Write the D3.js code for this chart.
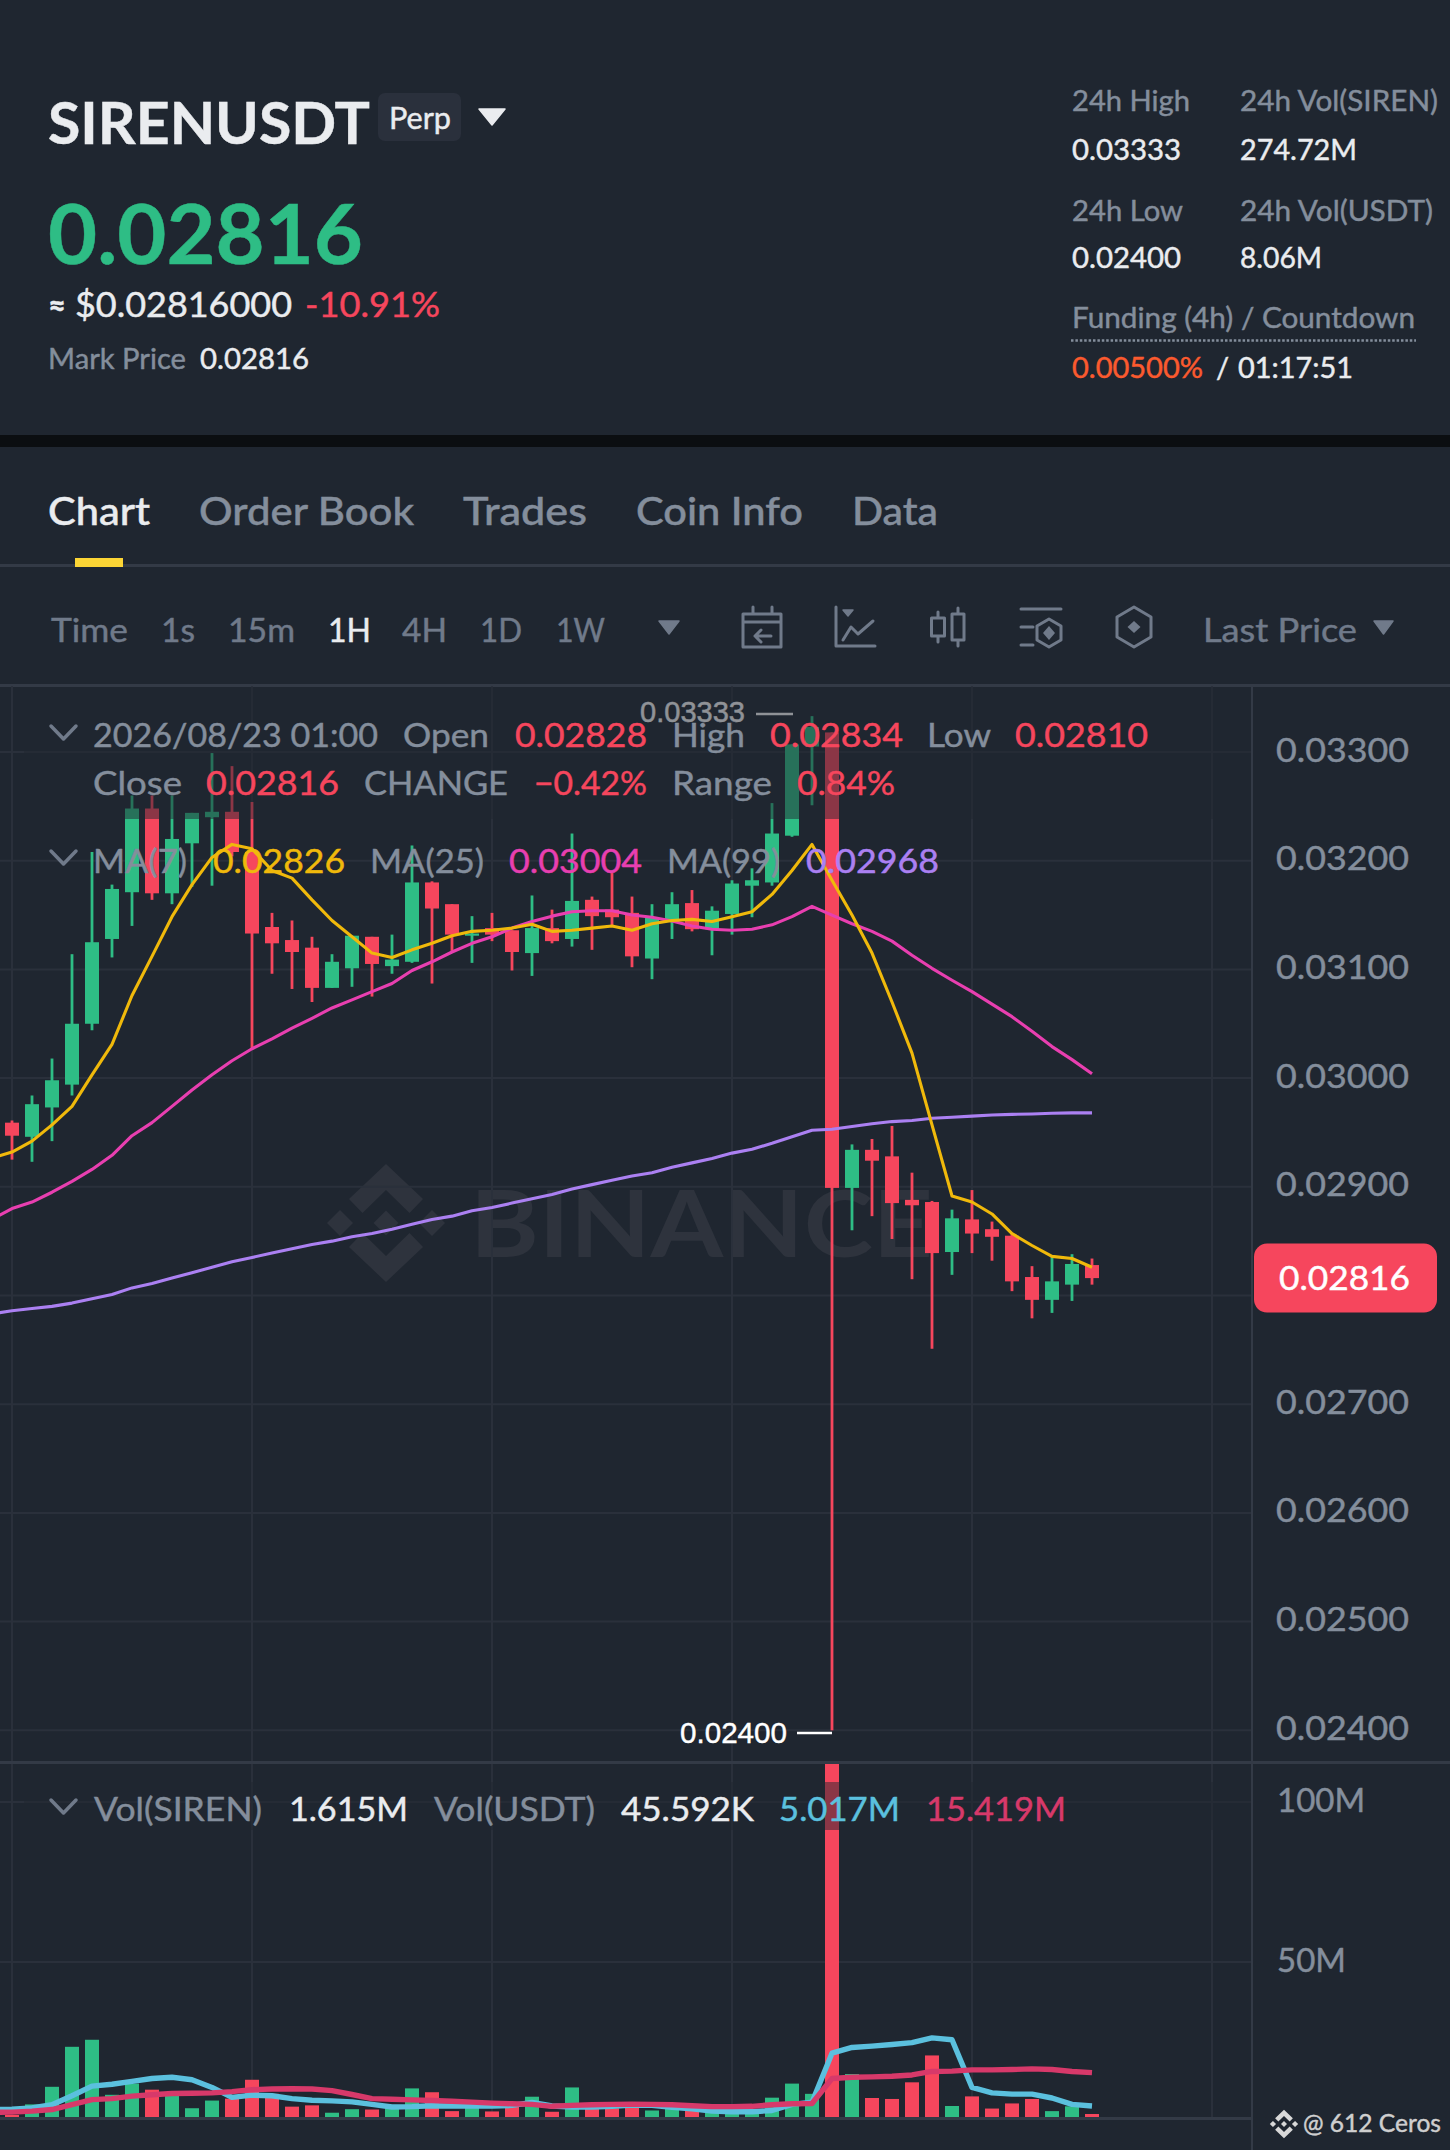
<!DOCTYPE html>
<html lang="en">
<head>
<meta charset="UTF-8">
<title>SIRENUSDT Perp</title>
<script src="https://d3js.org/d3.v7.min.js"></script>
<style>
  html, body { margin: 0; padding: 0; background: #1f2630; }
  svg { display: block; }
  text { font-family: Lato, "Open Sans", sans-serif; }
</style>
</head>
<body>
<svg id="chart" width="1450" height="2150"></svg>
<script>
// candles, one per hour, oldest first
const opens = [.02959,.02946,.02973,.02994,.03050,.03128,.03171,.03248,.03170,.03216,.03240,.03245,.03208,.03139,.03127,.03120,.03083,.03101,.03130,.03103,.03107,.03180,.03160,.03131,.03138,.03136,.03115,.03138,.03128,.03164,.03155,.03152,.03110,.03146,.03161,.03137,.03151,.03177,.03180,.03223,.03305,.03318,.02899,.02934,.02928,.02888,.02886,.02840,.02870,.02861,.02855,.02817,.02796,.02810,.02828];
const highs = [.02961,.02984,.03018,.03114,.03208,.03178,.03260,.03260,.03260,.03244,.03299,.03287,.03254,.03152,.03145,.03130,.03114,.03131,.03130,.03132,.03214,.03181,.03160,.03149,.03152,.03136,.03168,.03155,.03225,.03167,.03189,.03167,.03160,.03171,.03173,.03158,.03182,.03193,.03253,.03307,.03333,.03318,.02939,.02944,.02956,.02913,.02887,.02879,.02897,.02868,.02857,.02827,.02836,.02838,.02834];
const lows = [.02925,.02923,.02942,.02984,.03044,.03111,.03140,.03164,.03160,.03176,.03177,.03204,.03027,.03096,.03082,.03070,.03083,.03084,.03075,.03096,.03106,.03087,.03117,.03106,.03126,.03099,.03094,.03124,.03121,.03118,.03139,.03102,.03091,.03128,.03135,.03113,.03132,.03148,.03177,.03222,.03251,.02400,.02860,.02873,.02852,.02815,.02751,.02819,.02839,.02832,.02804,.02779,.02784,.02795,.02810];
const closes = [.02947,.02976,.02998,.03050,.03125,.03174,.03248,.03170,.03220,.03244,.03245,.03208,.03133,.03124,.03116,.03083,.03107,.03131,.03105,.03109,.03180,.03156,.03132,.03133,.03132,.03116,.03138,.03126,.03163,.03149,.03148,.03112,.03148,.03160,.03137,.03154,.03179,.03182,.03225,.03307,.03323,.02899,.02934,.02924,.02885,.02883,.02839,.02871,.02857,.02854,.02813,.02796,.02813,.02829,.02816];

// moving averages start one hour before the first visible candle
const ma7 = [.029265,.02932,.02942,.02957,.02974,.03003,.03031,.03076,.03112,.031485,.03178,.03203,.03215,.03211,.03191,.03184,.03164,.03145,.03130,.03115,.03111,.03118,.03124,.03131,.03135,.03136,.03138,.031415,.03135,.03136,.03138,.03140,.03136,.03142,.03145,.03146,.03144,.031485,.03153,.03169,.03191,.03215,.03182,.03150,.03115,.03070,.03023,.02957,.028915,.02886,.02875,.02857,.02846,.02836,.02834,.02826];
const ma25 = [.02870,.02880,.02886,.02895,.02905,.02916,.02929,.02947,.02959,.02974,.02989,.03003,.03016,.03027,.03036,.03046,.03055,.030645,.03072,.030795,.03087,.03099,.03107,.03116,.03124,.03130,.03138,.03144,.03149,.03153,.03154,.03154,.03150,.03148,.031445,.03140,.03137,.03136,.03137,.03141,.031485,.03158,.03150,.03142,.03135,.03126,.03113,.03101,.03090,.030795,.03068,.030565,.03043,.03029,.03017,.03004];
const ma99 = [.02783,.02786,.02788,.02790,.02793,.02797,.02801,.02807,.02811,.02816,.02821,.02826,.02831,.02835,.02839,.02843,.02847,.02850,.02854,.02857,.02861,.028655,.02870,.02873,.02878,.02881,.02885,.02889,.02893,.02898,.02902,.02906,.02910,.02913,.02918,.02922,.02926,.02931,.029345,.02940,.02946,.02952,.02953,.029555,.02958,.02960,.02961,.02963,.02964,.02965,.02966,.029666,.02967,.029676,.02968,.02968];

// volume in millions of SIREN
const volumes = [2.2,5.5,11.0,23.5,25.7,8.5,12.0,10.1,8.2,4.3,6.7,7.3,13.2,8.8,4.8,5.2,2.9,4.0,3.9,4.7,10.5,9.3,3.4,4.4,3.3,4.7,7.9,3.2,10.8,4.1,4.3,4.7,3.6,4.2,3.9,3.4,3.4,3.4,7.6,12.0,8.8,120,15.0,7.5,7.2,12.4,20.8,5.0,8.0,4.2,5.8,7.2,3.4,4.9,2.5];
const volMa5 = [3.9,4.0,4.4,5.4,8.2,11.2,11.8,12.7,13.6,14.0,13.2,10.8,7.7,8.4,8.2,7.3,6.8,6.6,6.3,5.5,4.7,4.8,5.1,5.0,5.1,5.0,5.2,6.1,5.0,4.7,4.7,4.9,5.3,5.2,4.6,4.1,3.4,3.2,3.2,3.6,5.5,6.2,21.5,23.3,23.7,24.2,24.8,26.3,25.7,10.8,9.1,8.7,8.7,7.5,5.5,5.017];
const volMa10 = [3.0,3.1,3.4,3.9,5.4,7.0,7.3,8.1,8.5,8.9,9.0,9.1,9.5,10.1,10.3,10.4,10.3,9.8,8.6,7.3,7.1,6.9,6.7,6.5,6.2,5.9,5.7,5.5,4.9,5.2,5.4,5.5,5.6,5.5,5.4,5.1,4.8,4.8,4.9,5.4,5.7,5.8,13.6,14.0,14.1,14.3,14.7,15.8,15.9,16.3,16.3,16.4,16.6,16.4,15.8,15.419];

const priceTicks = [.033,.032,.031,.03,.029,.028,.027,.026,.025,.024];
const volTicks = [50,100];
const timeTicks = [0,12,24,36,48,60];

const BG = "#1f2630", UP = "#2ebd85", DOWN = "#f6465d", WHITE = "#eaecef", GREY = "#848e9c",
      ICON = "#707a8a", GRID = "#2a303b", LINE = "#333a46";

const svg = d3.select("#chart");
svg.append("rect").attr("width", 1450).attr("height", 2150).attr("fill", BG);

const x = d3.scaleLinear().domain([0, 54]).range([12, 1092]);
const y = d3.scaleLinear().domain([.024, .033]).range([1730.3, 752]);
const yVol = d3.scaleLinear().domain([0, 100]).range([2122, 1802]);
const PANE_R = 1252, PRICE_TOP = 686, PRICE_BOT = 1761, VOL_TOP = 1763, VOL_BOT = 2117;

// text is stretched to the width it has in the screenshot, with a hairline stroke
// because the screenshot's font sits a little heavier than Lato
function label(parent, s, lx, ly, size, fill, right, weight, family) {
  const t = parent.append("text").attr("x", lx).attr("y", ly).attr("font-size", size)
    .attr("fill", fill).attr("font-weight", weight || 400).text(s)
    .attr("stroke", fill).attr("stroke-width", .45);
  if (family) t.style("font-family", family);
  if (right) t.attr("textLength", right - lx).attr("lengthAdjust", "spacingAndGlyphs");
  return t;
}
function tri(parent, x0, x1, y0, y1, fill) {
  parent.append("path").attr("d", `M${x0},${y0}L${x1},${y0}L${(x0 + x1) / 2},${y1}Z`)
    .attr("fill", fill).attr("stroke", fill).attr("stroke-width", 1.5).attr("stroke-linejoin", "round");
}
function stroke(parent, d, w, col) {
  parent.append("path").attr("d", d).attr("fill", "none").attr("stroke", col || ICON)
    .attr("stroke-width", w || 3).attr("stroke-linejoin", "round").attr("stroke-linecap", "round");
}
function binanceLogo(parent, cx, cy, k, fill) {
  const pieces = [
    "M0,-59L37,-24L23.5,-10L0,-33L-23.5,-10L-37,-24Z",
    "M0,59L37,24L23.5,10L0,33L-23.5,10L-37,24Z",
    "M0,-12.5L12.5,0L0,12.5L-12.5,0Z",
    "M-46,-13L-33,0L-46,13L-59,0Z",
    "M46,-13L59,0L46,13L33,0Z"
  ];
  parent.append("g").attr("transform", `translate(${cx},${cy}) scale(${k})`)
    .selectAll("path").data(pieces).enter().append("path").attr("d", d => d).attr("fill", fill);
}

// header
const head = svg.append("g");
label(head, "SIRENUSDT", 48, 144, 57, WHITE, 370, 700);
head.append("rect").attr("x", 378).attr("y", 93).attr("width", 83).attr("height", 48).attr("rx", 7).attr("fill", "#2a303c");
label(head, "Perp", 389, 129, 31, WHITE, 451);
tri(head, 479, 505, 109, 125, WHITE);
label(head, "0.02816", 48, 264, 82, UP, 363, 700);
label(head, "≈", 48, 317, 33, WHITE, 66, 700);
label(head, "$0.02816000", 75, 317, 34, WHITE, 292, 400);
label(head, "-10.91%", 305, 317, 34, DOWN, 440, 400);
label(head, "Mark Price", 48, 369, 29, GREY, 186);
label(head, "0.02816", 200, 369, 29, WHITE, 309);

label(head, "24h High", 1072, 111, 29, GREY, 1190);
label(head, "24h Vol(SIREN)", 1240, 111, 29, GREY, 1438);
label(head, "0.03333", 1072, 160, 29, WHITE, 1181);
label(head, "274.72M", 1240, 160, 29, WHITE, 1357);
label(head, "24h Low", 1072, 221, 29, GREY, 1183);
label(head, "24h Vol(USDT)", 1240, 221, 29, GREY, 1433);
label(head, "0.02400", 1072, 268, 29, WHITE, 1181);
label(head, "8.06M", 1240, 268, 29, WHITE, 1322);
label(head, "Funding (4h) / Countdown", 1072, 328, 29, GREY, 1415);
head.append("line").attr("x1", 1071).attr("x2", 1416).attr("y1", 340.5).attr("y2", 340.5)
  .attr("stroke", GREY).attr("stroke-width", 2.5).attr("stroke-dasharray", "2.5 1.9");
label(head, "0.00500%", 1072, 378, 29, "#fb5a2e", 1203);
label(head, "/", 1216, 378, 29, WHITE);
label(head, "01:17:51", 1238, 378, 29, WHITE, 1353);

svg.append("rect").attr("x", 0).attr("y", 435).attr("width", 1450).attr("height", 12).attr("fill", "#0b0e11");

// tabs
label(svg, "Chart", 48, 525, 38, WHITE, 150, 500);
label(svg, "Order Book", 199, 525, 38, GREY, 414, 500);
label(svg, "Trades", 463, 525, 38, GREY, 587, 500);
label(svg, "Coin Info", 636, 525, 38, GREY, 803, 500);
label(svg, "Data", 852, 525, 38, GREY, 938, 500);
svg.append("rect").attr("x", 0).attr("y", 564).attr("width", 1450).attr("height", 3).attr("fill", LINE);
svg.append("rect").attr("x", 75).attr("y", 558).attr("width", 48).attr("height", 9).attr("fill", "#fcd535");

// interval bar
label(svg, "Time", 51, 642, 32, ICON, 128);
label(svg, "1s", 161, 642, 32, ICON, 195);
label(svg, "15m", 228, 642, 32, ICON, 295);
label(svg, "1H", 328, 642, 32, WHITE, 371);
label(svg, "4H", 402, 642, 32, ICON, 447);
label(svg, "1D", 480, 642, 32, ICON, 522);
label(svg, "1W", 556, 642, 32, ICON, 605);
tri(svg, 659, 679, 621, 634, ICON);

const icons = svg.append("g");
stroke(icons, "M743,614H781V647H743ZM743,622H781M753,607V614M772,607V614M771,636H755M761,630L755,636L761,642");
stroke(icons, "M836,607V646H875M843,640L851,627L858,634L873,621");
tri(icons, 843, 853, 610, 616, ICON);
stroke(icons, "M931.5,618H944.5V636H931.5ZM938,612V618M938,636V642M952,614H964V640H952ZM958,608V614M958,640V646");
stroke(icons, "M1021,609H1061M1021,627H1033M1021,645H1033M1049,619L1061,626V640L1049,647L1037,640V626Z");
icons.append("path").attr("d", "M1049,626L1055,633L1049,640L1043,633Z").attr("fill", ICON);
stroke(icons, "M1134,607L1151,617V637L1134,647L1117,637V617Z");
icons.append("path").attr("d", "M1134,621L1140.5,627L1134,633L1127.5,627Z").attr("fill", ICON);
label(svg, "Last Price", 1203, 642, 32, ICON, 1357);
tri(svg, 1374, 1393, 621, 634, ICON);

svg.append("rect").attr("x", 0).attr("y", 684).attr("width", 1450).attr("height", 3).attr("fill", LINE);

// watermark under the grid
svg.append("text").attr("x", 470).attr("y", 1257).attr("font-size", 92).attr("font-weight", 700)
  .attr("fill", "#2e333d").attr("textLength", 463).attr("lengthAdjust", "spacingAndGlyphs").text("BINANCE");
binanceLogo(svg, 386, 1223, 1, "#2e333d");

// grid
const grid = svg.append("g").attr("stroke", GRID).attr("stroke-width", 2);
grid.selectAll(".h").data(priceTicks).enter().append("line")
  .attr("x1", 0).attr("x2", PANE_R).attr("y1", d => y(d)).attr("y2", d => y(d));
grid.selectAll(".v").data(volTicks).enter().append("line")
  .attr("x1", 0).attr("x2", PANE_R).attr("y1", d => yVol(d)).attr("y2", d => yVol(d));
grid.selectAll(".t").data(timeTicks).enter().append("line")
  .attr("x1", d => x(d)).attr("x2", d => x(d)).attr("y1", PRICE_TOP).attr("y2", VOL_BOT);

// candles
const candles = d3.range(opens.length).map(i => ({ i, o: opens[i], h: highs[i], l: lows[i], c: closes[i], v: volumes[i] }));
const colour = d => d.c >= d.o ? UP : DOWN;

const price = svg.append("g");
price.selectAll(".wick").data(candles).enter().append("rect").attr("class", "wick")
  .attr("x", d => x(d.i) - 1.4).attr("width", 2.8)
  .attr("y", d => y(d.h)).attr("height", d => y(d.l) - y(d.h)).attr("fill", colour);
price.selectAll(".body").data(candles).enter().append("rect").attr("class", "body")
  .attr("x", d => x(d.i) - 7).attr("width", 14)
  .attr("y", d => y(Math.max(d.o, d.c)))
  .attr("height", d => Math.max(2, Math.abs(y(d.o) - y(d.c)))).attr("fill", colour);

const maLine = d3.line().x((d, i) => x(i - 1)).y(d => y(d));
[[ma99, "#ab80f2"], [ma25, "#e83fb0"], [ma7, "#f0b90b"]].forEach(([vals, col]) => {
  price.append("path").datum(vals).attr("d", maLine).attr("fill", "none")
    .attr("stroke", col).attr("stroke-width", 3.1).attr("stroke-linejoin", "round");
});

// 24h high and low markers
label(svg, "0.03333", 640, 722, 30, "#fff", 745, 400, "'Liberation Sans'");
svg.append("line").attr("x1", 756).attr("x2", 793).attr("y1", 714).attr("y2", 714).attr("stroke", "#fff").attr("stroke-width", 2.5);
label(svg, "0.02400", 680, 1743, 30, "#fff", 787, 400, "'Liberation Sans'");
svg.append("line").attr("x1", 797).attr("x2", x(41)).attr("y1", 1733).attr("y2", 1733).attr("stroke", "#fff").attr("stroke-width", 2.5);

// volume pane
svg.append("defs").append("clipPath").attr("id", "volClip").append("rect")
  .attr("x", 0).attr("y", VOL_TOP).attr("width", PANE_R).attr("height", VOL_BOT - VOL_TOP);
const vol = svg.append("g").attr("clip-path", "url(#volClip)");
vol.selectAll(".vbar").data(candles).enter().append("rect").attr("class", "vbar")
  .attr("x", d => x(d.i) - 7).attr("width", 14)
  .attr("y", d => yVol(d.v)).attr("height", d => VOL_BOT - yVol(d.v)).attr("fill", colour);
const volLine = d3.line().x((d, i) => x(i - 1)).y(d => yVol(d));
[[volMa5, "#5bc0de"], [volMa10, "#d7396a"]].forEach(([vals, col]) => {
  vol.append("path").datum(vals).attr("d", volLine).attr("fill", "none")
    .attr("stroke", col).attr("stroke-width", 5.4).attr("stroke-linejoin", "round");
});

// legend backdrops dim what is behind them
svg.append("rect").attr("x", 24).attr("y", PRICE_TOP + 1).attr("width", PANE_R - 24).attr("height", 132).attr("fill", BG).attr("opacity", .5);
svg.append("rect").attr("x", 24).attr("y", 1782).attr("width", PANE_R - 24).attr("height", 48).attr("fill", BG).attr("opacity", .5);

// pane borders
svg.append("rect").attr("x", 0).attr("y", 1761).attr("width", 1450).attr("height", 3).attr("fill", LINE);
svg.append("rect").attr("x", 0).attr("y", 2117).attr("width", PANE_R).attr("height", 3).attr("fill", LINE);
svg.append("rect").attr("x", 1251).attr("y", 686).attr("width", 2).attr("height", 1464).attr("fill", LINE);

// legends
const chevron = (cy) => stroke(svg, `M51,${cy}L63.5,${cy + 13}L76,${cy}`, 3.5);
chevron(726);
label(svg, "2026/08/23 01:00", 93, 747, 33, GREY, 378);
label(svg, "Open", 403, 747, 33, GREY, 489);
label(svg, "0.02828", 515, 747, 33, DOWN, 647);
label(svg, "High", 672, 747, 33, GREY, 745);
label(svg, "0.02834", 770, 747, 33, DOWN, 903);
label(svg, "Low", 927, 747, 33, GREY, 991);
label(svg, "0.02810", 1015, 747, 33, DOWN, 1148);
label(svg, "Close", 93, 795, 33, GREY, 182);
label(svg, "0.02816", 206, 795, 33, DOWN, 339);
label(svg, "CHANGE", 364, 795, 33, GREY, 508);
label(svg, "−0.42%", 534, 795, 33, DOWN, 647);
label(svg, "Range", 672, 795, 33, GREY, 772);
label(svg, "0.84%", 797, 795, 33, DOWN, 895);
chevron(851);
label(svg, "MA(7)", 93, 873, 33, GREY, 187);
label(svg, "0.02826", 213, 873, 33, "#f0b90b", 345);
label(svg, "MA(25)", 370, 873, 33, GREY, 484);
label(svg, "0.03004", 509, 873, 33, "#e83fb0", 642);
label(svg, "MA(99)", 667, 873, 33, GREY, 780);
label(svg, "0.02968", 806, 873, 33, "#ab80f2", 939);
chevron(1800);
label(svg, "Vol(SIREN)", 94, 1821, 33, GREY, 262);
label(svg, "1.615M", 289, 1821, 33, WHITE, 408);
label(svg, "Vol(USDT)", 434, 1821, 33, GREY, 595);
label(svg, "45.592K", 621, 1821, 33, WHITE, 754);
label(svg, "5.017M", 779, 1821, 33, "#5bc0de", 900);
label(svg, "15.419M", 926, 1821, 33, "#d7396a", 1066);

// axes
const priceAxis = d3.axisRight(y).tickValues(priceTicks).tickFormat(d3.format(".5f")).tickSize(0).tickPadding(0);
const pa = svg.append("g").attr("transform", "translate(1276,0)").call(priceAxis);
pa.select(".domain").remove();
pa.selectAll("text").attr("fill", GREY).attr("font-size", 33).attr("dy", 9)
  .attr("stroke", GREY).attr("stroke-width", .45)
  .attr("textLength", 133).attr("lengthAdjust", "spacingAndGlyphs")
  .style("font-family", "Lato");

const volAxis = d3.axisRight(yVol).tickValues(volTicks).tickFormat(d => d + "M").tickSize(0).tickPadding(0);
const va = svg.append("g").attr("transform", "translate(1277,0)").call(volAxis);
va.select(".domain").remove();
va.selectAll("text").attr("fill", GREY).attr("font-size", 33).attr("dy", 9)
  .attr("stroke", GREY).attr("stroke-width", .45).style("font-family", "Lato");

// last price tag
const last = closes[closes.length - 1];
svg.append("rect").attr("x", 1254).attr("y", y(last) - 34.5).attr("width", 183).attr("height", 69).attr("rx", 13).attr("fill", DOWN);
label(svg, d3.format(".5f")(last), 1279, y(last) + 12, 33, "#fff", 1410);

// credit
binanceLogo(svg, 1284, 2124, .24, "#d8d8d8");
label(svg, "@ 612 Ceros", 1303, 2132, 25, "#cfcfcf", 1441);
</script>
</body>
</html>
